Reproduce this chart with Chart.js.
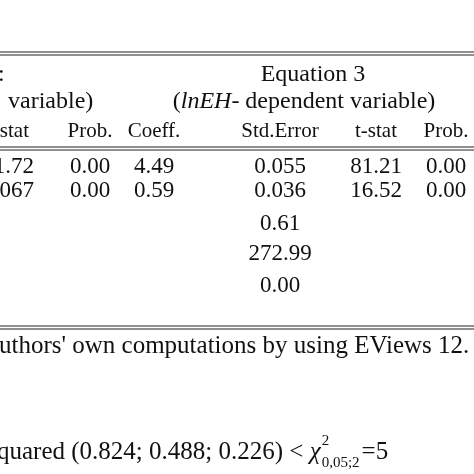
<!DOCTYPE html>
<html><head><meta charset="utf-8">
<script src="https://cdn.jsdelivr.net/npm/chart.js@4"></script>
<style>html,body{margin:0;background:#fff}#wrap{width:474px;height:474px}</style>
</head><body><div id="wrap"><canvas id="c"></canvas></div>
<script>
// column positions (x-units) and header labels
const colX = [8, 90, 154, 280, 376, 446];
const colHeaders = ['t-stat', 'Prob.', 'Coeff.', 'Std.Error', 't-stat', 'Prob.'];
const rowA = ['21.72', '0.00', '4.49', '0.055', '81.21', '0.00'];
const rowB = ['0.067', '0.00', '0.59', '0.036', '16.52', '0.00'];
const statsCol = ['0.61', '272.99', '0.00'];
const rowY = [131, 167, 191, 224, 254, 286];

const tablePlugin = {
    id: 'table',
    afterDraw(chart) {
        const ctx = chart.ctx, xs = chart.scales.x, ys = chart.scales.y;
        const X = v => xs.getPixelForValue(v), Y = v => ys.getPixelForValue(v);
        ctx.save();
        ctx.fillStyle = '#111';
        ctx.strokeStyle = '#222';
        ctx.textBaseline = 'middle';
        ctx.textAlign = 'center';
        const font = 'px "Liberation Serif", "DejaVu Serif", serif';

        // rules (double lines)
        const dbl = (y) => {
            ctx.lineWidth = 1.2;
            [y, y + 3].forEach(yy => { ctx.beginPath(); ctx.moveTo(X(0), Y(yy)); ctx.lineTo(X(474), Y(yy)); ctx.stroke(); });
        };
        dbl(52); dbl(147); dbl(326);

        ctx.font = '24' + font;
        ctx.textAlign = 'left';
        ctx.fillText(':', X(-2), Y(75));
        ctx.fillText('variable)', X(8), Y(102));
        ctx.textAlign = 'center';
        ctx.fillText('Equation 3', X(313), Y(75));
        const p1 = '(', p2 = 'lnEH', p3 = '- dependent variable)';
        const w1 = ctx.measureText(p1).width, w3 = ctx.measureText(p3).width;
        ctx.font = 'italic 24' + font; const w2 = ctx.measureText(p2).width;
        let sx = X(304) - (w1 + w2 + w3) / 2;
        ctx.textAlign = 'left';
        ctx.font = '24' + font; ctx.fillText(p1, sx, Y(102)); sx += w1;
        ctx.font = 'italic 24' + font; ctx.fillText(p2, sx, Y(102)); sx += w2;
        ctx.font = '24' + font; ctx.fillText(p3, sx, Y(102));
        ctx.textAlign = 'center';

        ctx.font = '21' + font;
        colHeaders.forEach((h, i) => ctx.fillText(h, X(colX[i]), Y(rowY[0])));
        ctx.font = '23' + font;
        rowA.forEach((v, i) => ctx.fillText(v, X(colX[i]), Y(rowY[1])));
        rowB.forEach((v, i) => ctx.fillText(v, X(colX[i]), Y(rowY[2])));
        statsCol.forEach((v, i) => ctx.fillText(v, X(colX[3]), Y(rowY[3 + i])));

        ctx.textAlign = 'left';
        ctx.font = '25' + font;
        ctx.fillText("uthors' own computations by using EViews 12.", X(-1), Y(346));
        const s1 = 'quared (0.824; 0.488; 0.226) < ';
        ctx.fillText(s1, X(-3), Y(452));
        let cx = X(-3) + ctx.measureText(s1).width;
        ctx.font = 'italic 25' + font; ctx.fillText('\u03C7', cx, Y(452));
        cx += ctx.measureText('\u03C7').width + 1;
        ctx.font = '15' + font;
        ctx.fillText('2', cx, Y(441));
        ctx.fillText('0,05;2', cx, Y(463));
        cx += ctx.measureText('0,05;2').width + 2;
        ctx.font = '25' + font; ctx.fillText('=5', cx, Y(452));
        ctx.restore();
    }
};

new Chart(document.getElementById('c'), {
    type: 'scatter',
    data: { datasets: [{ data: [] }] },
    options: {
        responsive: true, maintainAspectRatio: false, animation: false,
        layout: { padding: 0 },
        plugins: { legend: { display: false }, tooltip: { enabled: false } },
        scales: {
            x: { type: 'linear', min: 0, max: 474, display: false },
            y: { type: 'linear', min: 0, max: 474, reverse: true, display: false }
        }
    },
    plugins: [tablePlugin]
});
</script></body></html>
